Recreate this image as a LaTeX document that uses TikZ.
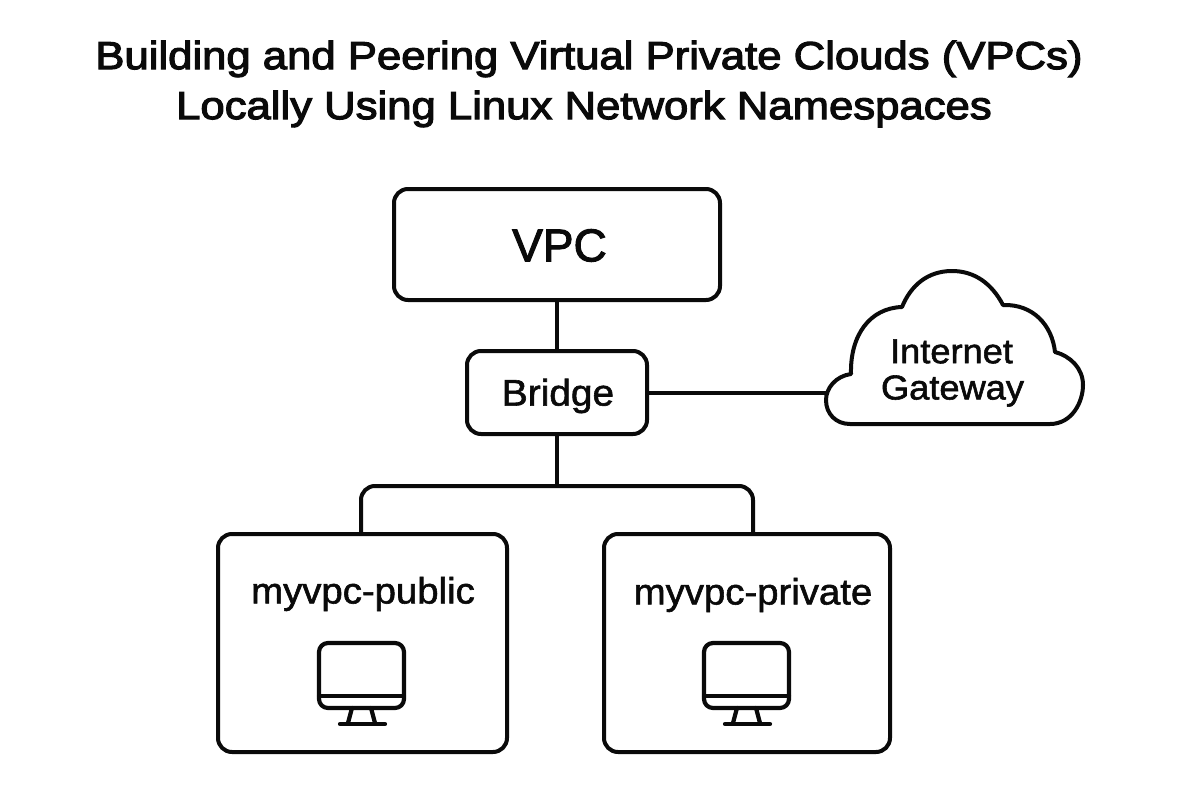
\documentclass[tikz,border=0pt]{standalone}
\usepackage{fontspec}
\setmainfont{Liberation Sans}
\newfontfamily\titlefont{Liberation Sans}[FakeStretch=1.12,RawFeature={embolden=3}]
\newfontfamily\medfont{Liberation Sans}[FakeStretch=1.05,RawFeature={embolden=1.6}]
\newfontfamily\vpcfont{Liberation Sans}[RawFeature={embolden=2.2}]
\usetikzlibrary{calc}
\newcommand{\fs}[1]{\fontsize{#1}{#1}\selectfont}
\definecolor{ink}{HTML}{0A0A0A}
\tikzset{
  px/.style={x=1pt,y=-1pt},
  box/.style={draw=ink,line width=4pt,rounded corners=14pt,fill=white,inner sep=0pt},
  link/.style={draw=ink,line width=4pt,rounded corners=14pt},
  cloudline/.style={draw=ink,line width=4pt,fill=white,line join=round},
  monitorline/.style={draw=ink,line width=4.2pt,line cap=round,line join=round},
  label/.style={text=ink,inner sep=0pt,align=center},
}
\begin{document}
\begin{tikzpicture}[px]
\useasboundingbox (0,0) rectangle (1200,800);
\fill[white] (0,0) rectangle (1200,800);
% title
\node[label,font=\titlefont\fs{39}] (title1) at (589,59) {Building and Peering Virtual Private Clouds (VPCs)};
\node[label,font=\titlefont\fs{39}] (title2) at (584,109) {Locally Using Linux Network Namespaces};
% boxes
\node[box,minimum width=326pt,minimum height=111pt] (vpc) at (557,244.5) {};
\node[label,font=\vpcfont\fs{46}] (vpct) at (559.5,245.5) {VPC};
\node[box,minimum width=180pt,minimum height=83pt] (bridge) at (557,392.5) {};
\node[label,font=\medfont\fs{37}] (bridget) at (558,396) {Bridge};
\node[box,minimum width=289pt,minimum height=218pt] (public) at (362.5,643) {};
\node[label,font=\medfont\fs{36.5}] (publict) at (363,594) {myvpc-public};
\node[box,minimum width=286pt,minimum height=218pt] (private) at (747,643) {};
\node[label,font=\medfont\fs{36.5}] (privatet) at (753,595) {myvpc-private};
% cloud
\draw[cloudline] (850,424) -- (1050,424)
  .. controls (1072,424) and (1083,402) .. (1083,385)
  .. controls (1083,368) and (1070,356) .. (1055,352)
  .. controls (1052,325) and (1033,304) .. (1003,305)
  .. controls (992,284) and (975,271) .. (952,271)
  .. controls (928,271) and (911,285) .. (902,307)
  .. controls (870,308) and (850,335) .. (851,374)
  .. controls (836,376) and (826,388) .. (826,400)
  .. controls (826,414) and (836,424) .. (850,424) -- cycle;
\node[label,font=\medfont\fs{34.5}] (gw1) at (951.5,351.5) {Internet};
\node[label,font=\medfont\fs{34.5}] (gw2) at (952.5,391) {Gateway};
\coordinate (gwwest) at (826,392.5);
\coordinate (pubtop) at (361,534);
\coordinate (privtop) at (753,534);
\coordinate (busl) at (361,486);
\coordinate (busr) at (753,486);
\coordinate (busm) at (557,486);
% connectors
\draw[link] (vpc.south) -- (bridge.north);
\draw[link] (bridge.east) -- (gwwest);
\draw[link] (bridge.south) -- (busm);
\draw[link] (pubtop) -- (busl) -- (busr) -- (privtop);
% monitors
\foreach \n/\dx in {mona/0,monb/385}{
  \begin{scope}[xshift=\dx pt]
    \draw[monitorline,rounded corners=9pt] (319,643) rectangle (404,708);
    \draw[monitorline] (319,696) -- (404,696);
    \draw[monitorline] (352,708) -- (348,723);
    \draw[monitorline] (371,708) -- (375,723);
    \draw[monitorline] (340,724) -- (385,724);
  \end{scope}
}
\end{tikzpicture}
\end{document}
